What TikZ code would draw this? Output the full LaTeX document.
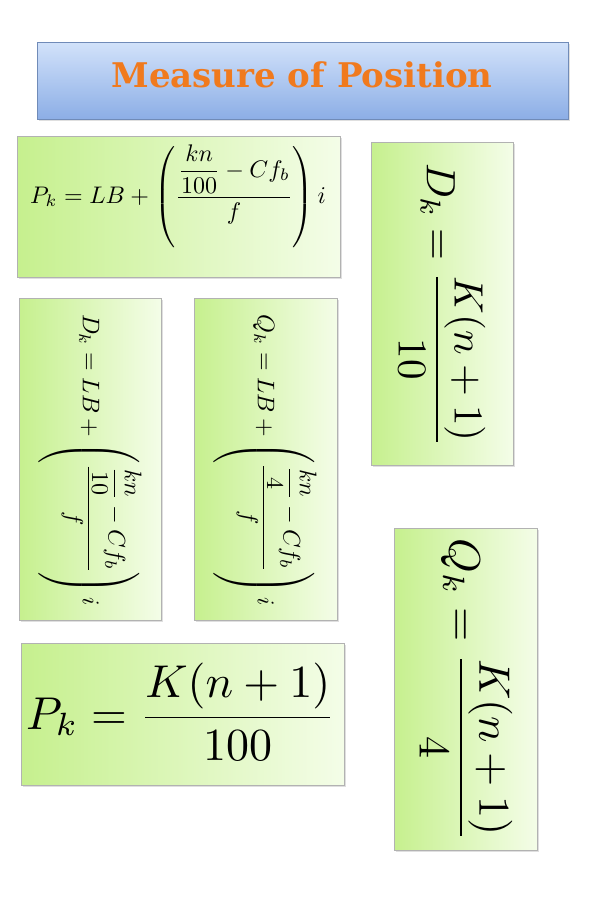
\documentclass[tikz,border=0pt]{standalone}
\usepackage{amsmath}
\usepackage{fontspec}
\newfontfamily\titlefont{DejaVu Serif}
\usetikzlibrary{shadows}
\definecolor{gL}{HTML}{C6F08E}
\definecolor{gR}{HTML}{F4FDE8}
\definecolor{tT}{HTML}{D2E2FA}
\definecolor{tB}{HTML}{8CAEE6}
\tikzset{
 gbox/.style={draw=gray!60, line width=0.6pt, left color=gL, right color=gR, drop shadow={opacity=0.25,shadow xshift=1.5pt,shadow yshift=-1.5pt}},
 tbox/.style={draw=tB!80!black, line width=0.6pt, top color=tT, bottom color=tB, drop shadow={opacity=0.25,shadow xshift=1.5pt,shadow yshift=-1.5pt}},
}
\begin{document}
\begin{tikzpicture}[x=1pt,y=-1pt]
\useasboundingbox[fill=white] (0,0) rectangle (600,918);
\path[tbox] (37,42) rectangle (568,119);
\node (title) at (302,75) {\titlefont\bfseries\fontsize{34}{40}\selectfont\color[HTML]{F07A1E}Measure of Position};
\path[gbox] (17,136) rectangle (340,277);
\path[gbox] (371,142) rectangle (513,465);
\path[gbox] (19,298) rectangle (161,620);
\path[gbox] (194,298) rectangle (337,620);
\path[gbox] (21,643) rectangle (344,785);
\path[gbox] (394,528) rectangle (537,850);
\node[scale=2.4,transform shape] (f1) at (178,196) {$\displaystyle P_k = LB+\left(\frac{\dfrac{kn}{100}-Cf_b}{f}\right)i$};
\node[rotate=-90,scale=4.1,transform shape] (f2) at (442,305) {$\displaystyle D_k = \frac{K(n+1)}{10}$};
\node[rotate=-90,scale=2.4,transform shape] (f3) at (90,460) {$\displaystyle D_k = LB+\left(\frac{\dfrac{kn}{10}-Cf_b}{f}\right)i$};
\node[rotate=-90,scale=2.4,transform shape] (f4) at (265,460) {$\displaystyle Q_k = LB+\left(\frac{\dfrac{kn}{4}-Cf_b}{f}\right)i$};
\node[scale=4.6,transform shape] (f5) at (181,712) {$\displaystyle P_k = \frac{K(n+1)}{100}$};
\node[rotate=-90,scale=4.4,transform shape] (f6) at (466,690) {$\displaystyle Q_k = \frac{K(n+1)}{4}$};
\end{tikzpicture}
\end{document}
